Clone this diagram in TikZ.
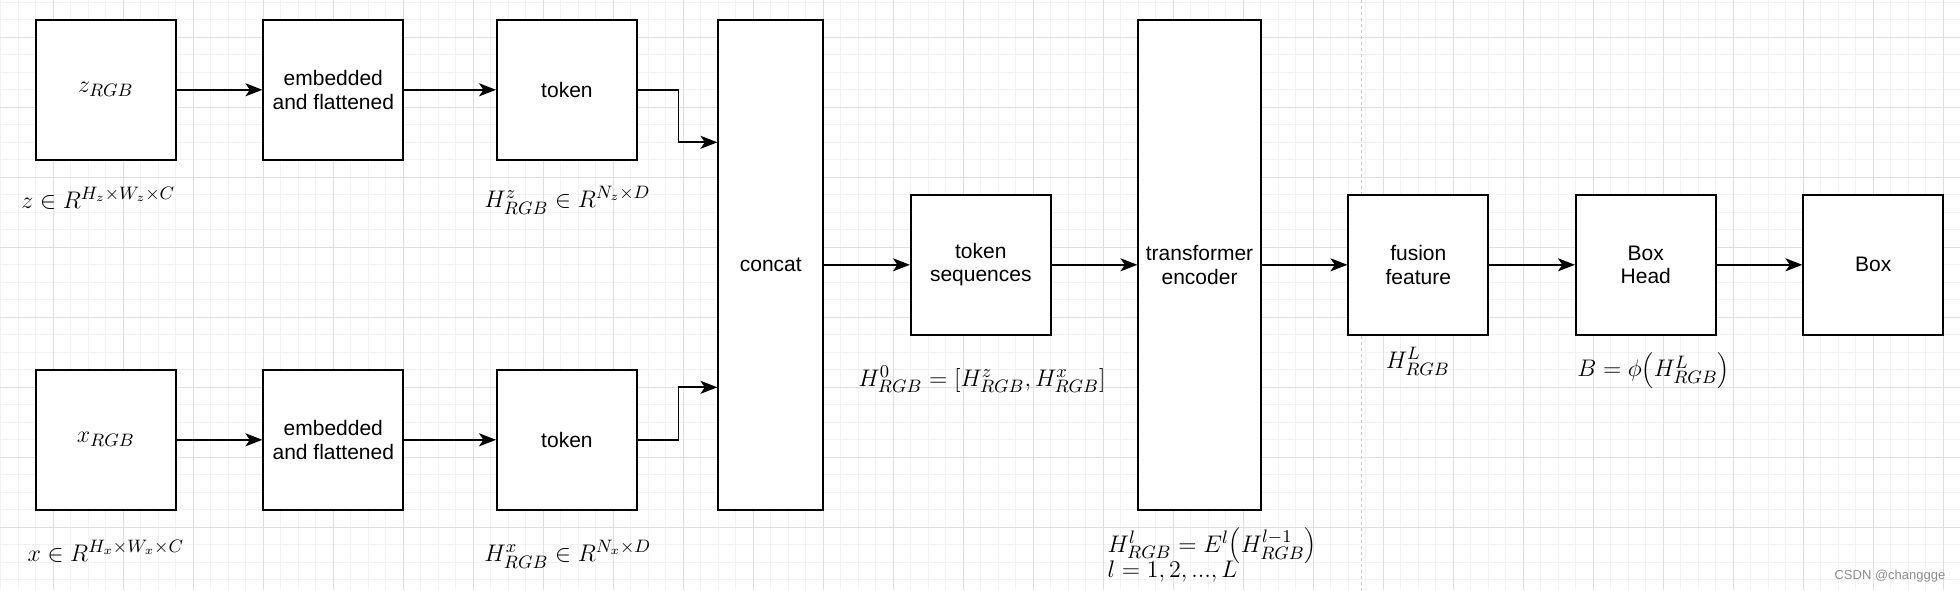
\documentclass[tikz,border=0pt]{standalone}
\usepackage[no-math]{fontspec}
\setmainfont{Liberation Sans}
\usetikzlibrary{arrows.meta}
\tikzset{
  block/.style={draw, fill=white, line width=0.875pt, inner sep=0pt,
    minimum width=70pt, minimum height=70pt, align=center,
    font=\fontsize{10.5}{11.7}\selectfont},
  tall/.style={block, minimum height=245pt},
  eq/.style={anchor=base, inner sep=0pt, font=\fontsize{12.5}{15}\selectfont},
  minorline/.style={-, draw=gray!10, line width=0.5pt},
  majorline/.style={-, draw=gray!25, line width=0.5pt},
  pagebreak/.style={-, draw=gray!45, line width=0.5pt, dash pattern=on 1.5pt off 1.5pt},
}
\begin{document}
\begin{tikzpicture}[x=8.75pt, y=-8.75pt, ->, >={Stealth[length=8.5pt,width=6.5pt,inset=2.2pt]}, line width=0.875pt]
      \useasboundingbox[fill=white] (-0.046,-0.131) rectangle (111.954,33.583);
      \foreach \i in {0,...,111} \draw[minorline] (\i,-0.131) -- (\i,33.583);
      \foreach \j in {0,...,33} \draw[minorline] (-0.046,\j) -- (111.954,\j);
      \foreach \i in {3,7,...,111} \draw[majorline] (\i,-0.131) -- (\i,33.583);
      \foreach \j in {2,6,...,30} \draw[majorline] (-0.046,\j) -- (111.954,\j);
      \draw[pagebreak] (77.75,-0.131) -- (77.75,33.583);
      \node[block, font=\fontsize{12.5}{15}\selectfont] (zrgb) at (6,5) {$z_{RGB}$};
      \node[block] (emb1) at (19,5) {embedded\\and flattened};
      \node[block] (tok1) at (32.35,5) {token};
      \node[block, font=\fontsize{12.5}{15}\selectfont] (xrgb) at (6,25) {$x_{RGB}$};
      \node[block] (emb2) at (19,25) {embedded\\and flattened};
      \node[block] (tok2) at (32.35,25) {token};
      \node[tall, minimum width=52.5pt] (concat) at (44,15) {concat};
      \node[block] (tokseq) at (56,15) {token\\sequences};
      \node[tall, minimum width=61.25pt] (trans) at (68.5,15) {transformer\\encoder};
      \node[block] (fusion) at (81,15) {fusion\\feature};
      \node[block] (head) at (94,15) {Box\\Head};
      \node[block] (box) at (107,15) {Box};
      \draw (zrgb) -- (emb1);
      \draw (emb1) -- (tok1);
      \draw (tok1.east) -- ++(2.33,0) |- (concat.west |- 0,8);
      \draw (xrgb) -- (emb2);
      \draw (emb2) -- (tok2);
      \draw (tok2.east) -- ++(2.33,0) |- (concat.west |- 0,22);
      \draw (concat) -- (tokseq);
      \draw (tokseq) -- (trans);
      \draw (trans) -- (fusion);
      \draw (fusion) -- (head);
      \draw (head) -- (box);
      \node[eq] (zdim) at (5.57,11.77) {$z\in R^{H_z\times W_z\times C}$};
      \node[eq] (hz) at (32.38,11.73) {$H^z_{RGB}\in R^{N_z\times D}$};
      \node[eq] (xdim) at (6.0,31.96) {$x\in R^{H_x\times W_x\times C}$};
      \node[eq] (hx) at (32.4,31.96) {$H^x_{RGB}\in R^{N_x\times D}$};
      \node[eq] (h0) at (56.07,21.93) {$H^0_{RGB}=[H^z_{RGB},H^x_{RGB}]$};
      \node[eq, anchor=base west, align=left, font={\fontsize{12.5}{12.5}\selectfont\lineskiplimit=-100pt\relax}] (hl) at (63.2,32.84) {$H^l_{RGB}=E^l{\left(H^{l-1}_{RGB}\right)}$\\$l=1,2,...,L$};
      \node[eq] (hL) at (80.97,20.92) {$H^L_{RGB}$};
      \node[eq] (bphi) at (94.44,21.41) {$B=\phi{\left(H^L_{RGB}\right)}$};
      \node[anchor=base, inner sep=0pt, text=black!45, font=\fontsize{6.5}{8}\selectfont] (mark) at (107.95,32.97) {CSDN @changgge};
\end{tikzpicture}
\end{document}
